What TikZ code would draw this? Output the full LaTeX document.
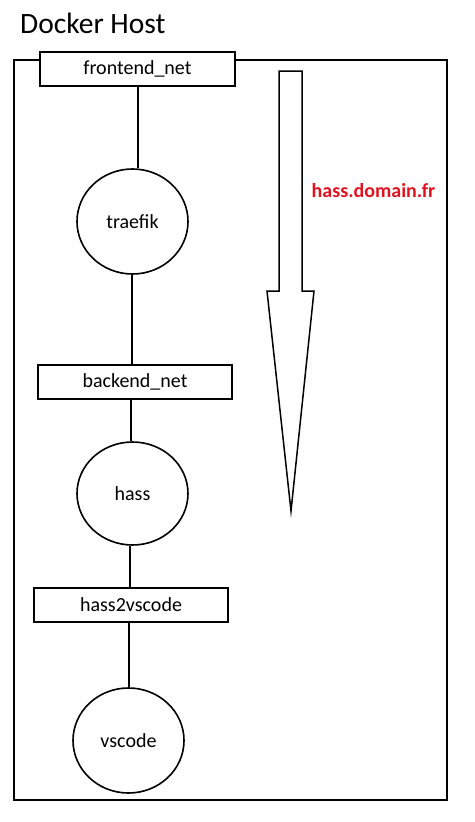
\documentclass[tikz,border=0pt]{standalone}
\usepackage{fontspec}
\setmainfont{Carlito}
\usetikzlibrary{shapes.geometric}
\definecolor{urlred}{RGB}{228,18,32}
\tikzset{
  netbox/.style={draw, line width=1.6pt, fill=white, rectangle, minimum width=195pt, minimum height=34pt, inner sep=0pt, font=\fontsize{20}{22}\selectfont},
  svc/.style={draw, line width=1.6pt, fill=white, ellipse, minimum width=111pt, minimum height=105pt, inner sep=0pt, font=\fontsize{20}{22}\selectfont},
  link/.style={line width=1.6pt},
}
\begin{document}
\begin{tikzpicture}[x=1pt,y=-1pt]
\useasboundingbox (0,0) rectangle (474,822);
\node[anchor=base west, inner sep=0pt, font=\fontsize{29.5}{32}\selectfont] (title) at (20,33) {Docker Host};
\draw[line width=1.6pt] (14,60) rectangle (447,800);
\node[netbox] (fe) at (137.5,69) {frontend\_net};
\node[svc] (trf) at (132.5,221.5) {traefik};
\node[netbox, minimum width=194pt] (be) at (135,382) {backend\_net};
\node[svc, minimum height=103pt] (hass) at (132.5,493.5) {hass};
\node[netbox, minimum width=194pt] (hv) at (131,605) {hass2vscode};
\node[svc] (vs) at (128.5,740.5) {vscode};
\coordinate (l1) at (138,0);
\coordinate (l2) at (132,0);
\coordinate (l3) at (131,0);
\coordinate (l4) at (130,0);
\coordinate (l5) at (129,0);
\draw[link] (fe.south -| l1) -- (trf.north -| l1);
\draw[link] (trf.south -| l2) -- (be.north -| l2);
\draw[link] (be.south -| l3) -- (hass.north -| l3);
\draw[link] (hass.south -| l4) -- (hv.north -| l4);
\draw[link] (hv.south -| l5) -- (vs.north -| l5);
\draw[line width=1.5pt, line join=miter] (279,71) -- (302,71) -- (302,291) -- (314,291) -- (291,511) -- (267,291) -- (279,291) -- cycle;
\node[text=urlred, font=\bfseries\fontsize{20}{22}\selectfont, anchor=base, inner sep=0pt] (url) at (373.5,197) {hass.domain.fr};
\end{tikzpicture}
\end{document}
